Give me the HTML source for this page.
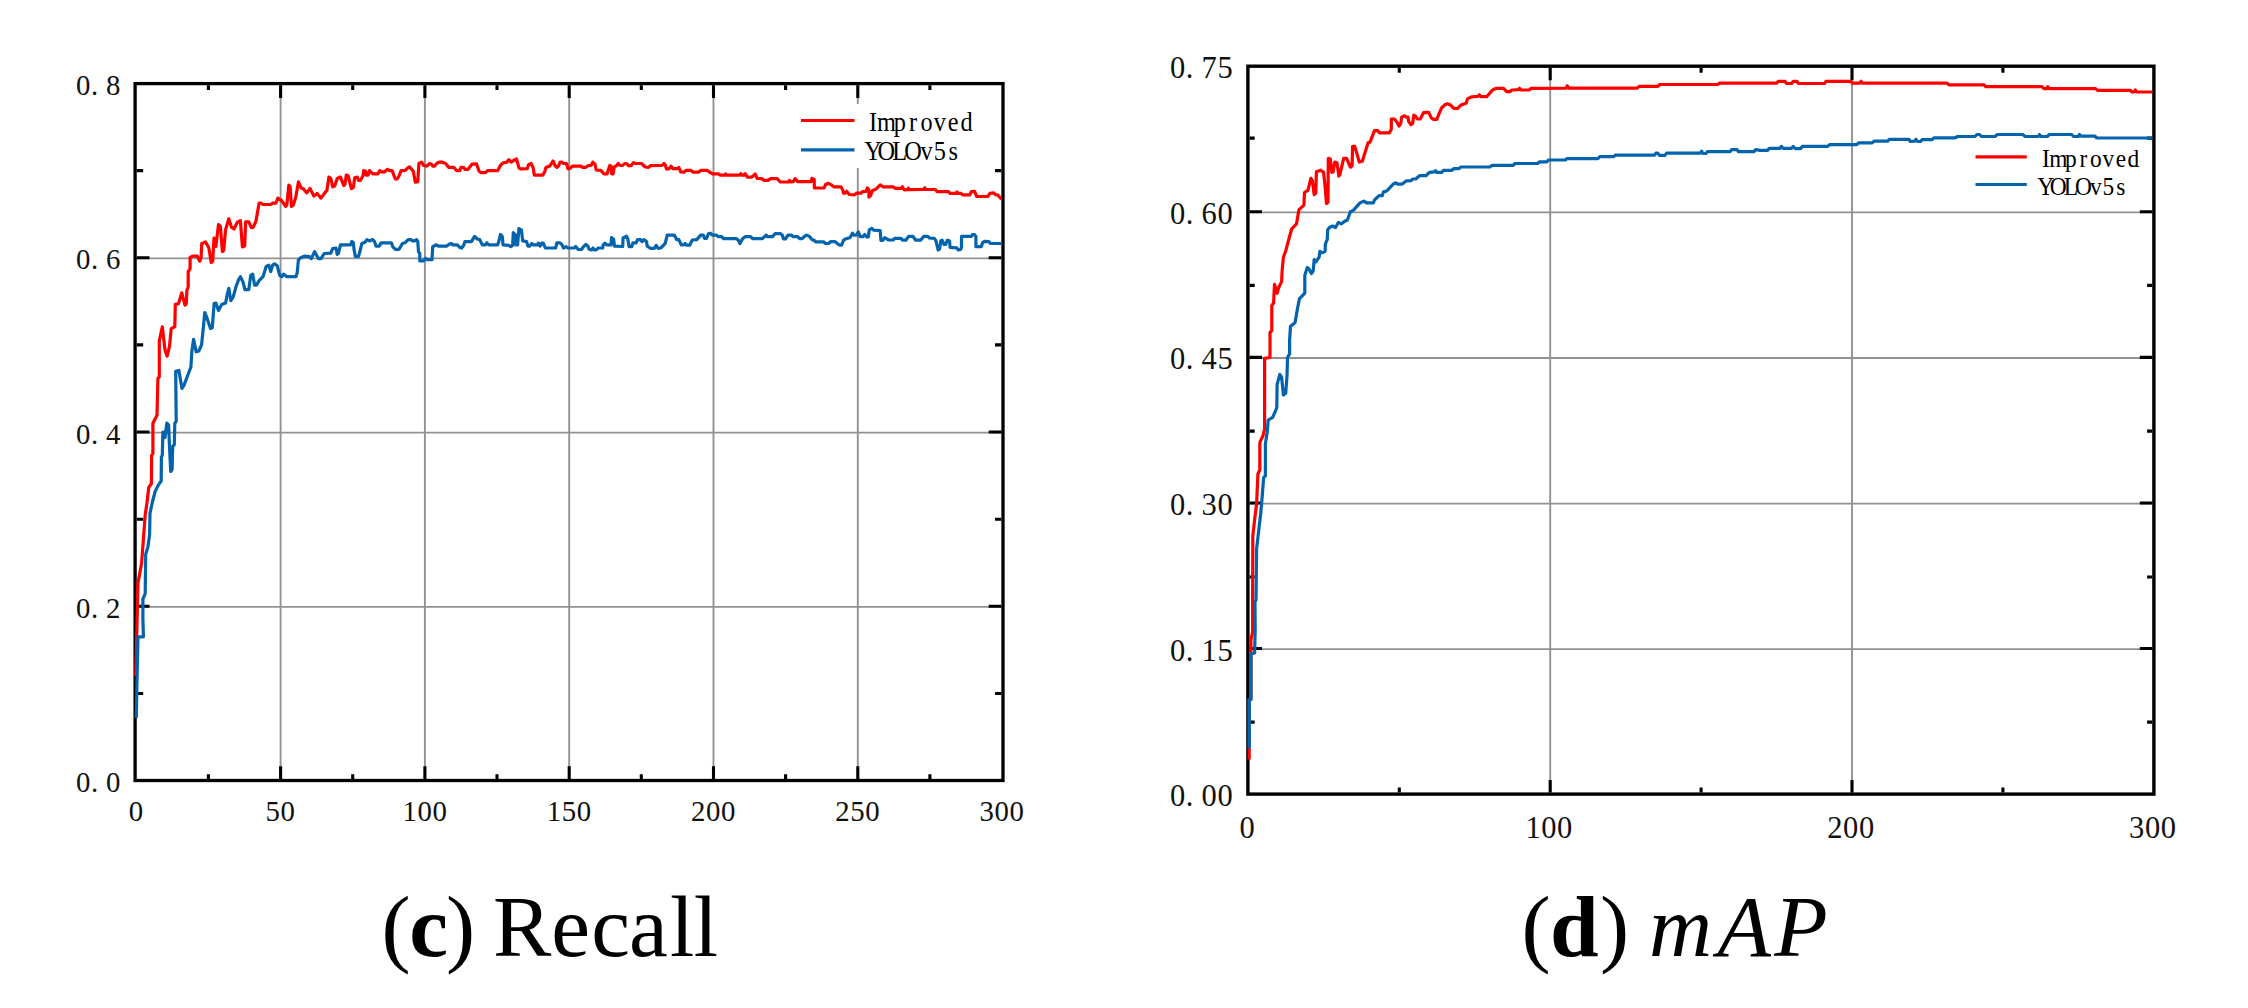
<!DOCTYPE html>
<html lang="en">
<head>
<meta charset="utf-8">
<title>Recall and mAP curves</title>
<style>
html,body{margin:0;padding:0;background:#fff;}
body{width:2248px;height:1008px;overflow:hidden;position:relative;font-family:"Liberation Serif",serif;}
svg{position:absolute;left:0;top:0;display:block;}
.gr{stroke:#929292;stroke-width:1.9;}
.cv{fill:none;stroke-width:3.2;stroke-linejoin:round;stroke-linecap:butt;}
.tick{stroke:#000;stroke-width:3.1;fill:none;}
.tk{font-family:"Liberation Serif",serif;fill:#111;}
.lg{font-family:"Liberation Serif",serif;fill:#000;text-anchor:middle;}
.cap{font-family:"Liberation Serif",serif;fill:#000;}
</style>
</head>
<body>
<svg width="2248" height="1008" viewBox="0 0 2248 1008">
<rect width="2248" height="1008" fill="#fff"/>
<g id="chart-recall">
<line class="gr" x1="280.6" y1="83.6" x2="280.6" y2="780.5"/>
<line class="gr" x1="424.9" y1="83.6" x2="424.9" y2="780.5"/>
<line class="gr" x1="569.2" y1="83.6" x2="569.2" y2="780.5"/>
<line class="gr" x1="713.5" y1="83.6" x2="713.5" y2="780.5"/>
<line class="gr" x1="857.8" y1="83.6" x2="857.8" y2="780.5"/>
<line class="gr" x1="135.1" y1="606.9" x2="1003" y2="606.9"/>
<line class="gr" x1="135.1" y1="432.6" x2="1003" y2="432.6"/>
<line class="gr" x1="135.1" y1="258.4" x2="1003" y2="258.4"/>
<rect x="790" y="104" width="200" height="64" fill="#fff"/>
<line x1="801" y1="120.5" x2="854.5" y2="120.5" stroke="#ff0000" stroke-width="3.2"/>
<text class="lg" transform="translate(866.4,130.7) scale(0.9,1)" x="7.4 22.2 37.1 51.9 66.8 81.6 96.4 111.2" font-size="27">Improved</text>
<line x1="801" y1="149.8" x2="854.5" y2="149.8" stroke="#0363ad" stroke-width="3.2"/>
<text class="lg" transform="translate(866.4,159.7) scale(0.9,1)" x="7.4 22.2 37.1 51.9 66.8 81.6 96.4" font-size="27">YOLOv5s</text>
<path class="tick" d="M280.6,778.9v-12.7 M280.6,85.2v12.7"/>
<path class="tick" d="M424.9,778.9v-12.7 M424.9,85.2v12.7"/>
<path class="tick" d="M569.2,778.9v-12.7 M569.2,85.2v12.7"/>
<path class="tick" d="M713.5,778.9v-12.7 M713.5,85.2v12.7"/>
<path class="tick" d="M857.8,778.9v-12.7 M857.8,85.2v12.7"/>
<path class="tick" d="M208.4,778.9v-4.7 M208.4,85.2v4.7"/>
<path class="tick" d="M352.7,778.9v-4.7 M352.7,85.2v4.7"/>
<path class="tick" d="M497,778.9v-4.7 M497,85.2v4.7"/>
<path class="tick" d="M641.3,778.9v-4.7 M641.3,85.2v4.7"/>
<path class="tick" d="M785.6,778.9v-4.7 M785.6,85.2v4.7"/>
<path class="tick" d="M929.9,778.9v-4.7 M929.9,85.2v4.7"/>
<path class="tick" d="M136.8,606.3h12.7 M1001.4,606.3h-12.7"/>
<path class="tick" d="M136.8,432h12.7 M1001.4,432h-12.7"/>
<path class="tick" d="M136.8,257.8h12.7 M1001.4,257.8h-12.7"/>
<path class="tick" d="M136.8,693.5h6.4 M1001.4,693.5h-6.4"/>
<path class="tick" d="M136.8,519.2h6.4 M1001.4,519.2h-6.4"/>
<path class="tick" d="M136.8,344.9h6.4 M1001.4,344.9h-6.4"/>
<path class="tick" d="M136.8,170.6h6.4 M1001.4,170.6h-6.4"/>
<rect x="135.1" y="83.6" width="867.9" height="696.9" fill="none" stroke="#000" stroke-width="3.3"/>
<polyline class="cv" stroke="#ff0000" points="135.8,676 136.6,640 137.1,618.6 138,582.9 141.6,563.2 143.4,539.1 145.2,515 147,502.5 148.8,487.3 151.4,483.8 151.6,455.4 152.9,453.6 152.9,423.2 157,415.2 157.9,378.6 159.3,376.8 159.3,341 162.3,326.8 165,350 167.1,356.2 169.5,346.4 171.2,328.6 174.8,326.8 175.3,304.4 178.5,303.8 181.8,292.8 185,305.1 186.3,303.8 186.9,290.2 188.2,287 188.2,271.5 190.1,269 190.1,257.4 192.7,256.1 197.2,256.1 199.8,261.2 201.1,257.4 201.7,243.8 205.6,241.9 208.8,247.7 211.2,262.5 212.7,261.2 214,238 215.9,246.4 218.5,224.5 220.4,226.4 222.4,251.6 223.7,250.3 225.6,229.6 228.8,218.7 231.4,227.1 234,229 237.2,222.5 240.4,220.6 242.4,247 244.7,245.8 245.6,221.9 248.8,221.9 251.4,227.7 253.3,227.1 255.9,221.3 259.1,203.2 261.1,203.2 263,204.5 270.7,204.5 272.7,203.2 275.9,203.2 277.8,198.1 281.7,200.6 285.6,206.4 286.8,205.1 288.8,185.2 290.1,186.4 291.4,206.4 293.3,205.1 295.9,196.8 298.4,181.9 301,187.7 303.6,189 306.8,192.9 310,188.4 313.9,196.1 317.1,193.5 321,198.1 326.2,191 326.9,190.6 328.9,177.1 330.8,178.4 332.7,186.8 334.7,186.1 337.2,178.4 340.5,177.1 343.7,185.5 345,184.2 346.3,175.1 348.2,175.8 351.4,188.7 353.4,187.4 354.7,177.7 357.2,177.1 358.5,180.3 360.5,180.3 363,175.8 363.7,170.6 365.6,171.3 366.3,175.1 368.2,175.1 369.5,170.6 372.7,173.9 377.9,173.9 379.8,170.6 381.7,171.9 384.3,171.9 387.5,169.3 389.5,170.6 392.1,170.6 395.3,179 397.2,179 399.1,175.8 401.1,170.6 404.9,170.6 407.5,168.1 409.5,166.8 413.3,171.3 415.3,182.2 417.8,181.6 418.9,163.5 421.7,162.2 423.6,165.5 426.9,166.1 429.4,163.5 431.4,164.2 432.7,166.1 434.6,166.1 437.2,162.9 439.1,162.2 442.3,162.2 445.6,163.5 448.8,167.4 453.9,167.4 456.5,170.6 459.8,170.6 461,167.4 463.6,167.4 464.9,169.3 468.1,169.3 472,164.2 476.5,163.9 479.1,171.3 481,172.6 485.5,172.6 487.5,170.6 497.8,170.6 500.4,165.5 503,162.9 506.8,162.2 508.8,159.7 511.3,162.2 513.9,160.3 516.5,159 519.1,168.1 520.4,168.9 527.2,168.7 528.5,164.8 531.1,163.5 533.1,167.4 534.3,175.1 542.7,175.1 544.7,171.9 545.9,167.4 549.8,166.1 553,161 555,165.5 556.9,167.4 558.8,165.5 560.1,162.2 562.1,162.2 563.4,163.5 566.6,163.5 567.9,168.7 569.8,168.7 572.4,166.1 580.8,166.1 582.7,167.4 585.9,167.4 587.9,165.7 591.1,165.5 592.8,162.2 595,164.2 596.2,170 600.8,170.4 604,173.9 607.2,173.9 608.5,169.3 609.8,165.5 611.1,166.1 611.7,173.9 613,173.9 614.3,166.8 616.2,166.1 618.2,163.5 620.1,165.5 622.7,165.5 624.6,163.5 626.5,163.5 628.5,165.7 631.1,165.7 633.6,162.6 635.6,163.5 641.4,163.5 645.2,167 648.5,167.4 650.4,165.7 662,165.5 663.9,163.5 665.2,164.8 666.5,169.1 669.1,168.7 671,166.1 673,168.7 677.5,168.7 678.8,167.4 680.7,171.9 683.9,172.2 685.9,170.4 691,170.4 692.9,172.2 698.8,172.2 700.7,170.4 707.1,170.4 710.4,172.6 712.6,173.9 718.4,173.9 720.3,175.1 724.8,175.1 725.7,173.9 726.8,175.1 739.7,175.1 740.7,173.6 742,175.1 743.8,175.1 745.1,173.6 747.4,177.1 751.9,177.1 755.1,173.9 757.1,178.4 761.6,178.6 764.2,180.3 768,180.3 770.6,178.6 777.1,178.6 780.3,182 788.7,182 789.6,180.3 790.6,182 793.2,181.6 795.1,178.6 797.7,181.6 811.2,181.6 811.9,178.4 814.2,179.4 814.4,188 824.1,188 825.4,184.8 828.6,183.3 831.2,184.8 833.8,186.8 840.9,186.8 842.8,190 843.5,193.2 845.4,193.2 846.7,191.3 849.3,194.5 854.4,194.9 856.4,193.2 860.9,193.2 862.8,191.5 866,191.5 867.3,188 868.9,190 868.9,197.1 870.5,195.8 872.5,190.6 875.7,189.3 880.2,184.8 882.8,186.8 893.1,186.8 895,188.3 901,188.4 902.4,186.7 904.3,190 907.5,189.7 908.3,188.1 909.2,189.7 923.9,189.5 924.7,187.8 925.5,189.5 935.4,189.5 937,191.6 948.5,191.6 950.1,193.3 956.1,193.3 957,191.9 957.7,193.3 961,193.3 962.6,194.9 969.7,194.9 971.4,191.6 974.6,191.4 976.8,196.5 987.7,196.5 989.9,193.3 993.7,192.9 995.4,194.7 997.5,194.9 1000.8,198.4 1001.9,198.4"/>
<polyline class="cv" stroke="#0363ad" points="136.3,718 137,680 138,636.8 143.4,636.8 142.9,618.6 142.9,599 145.2,593.6 145.7,554.3 147.9,547.1 149.6,534.6 150,513.2 152.3,502.5 155,491.8 158.6,484.6 161.2,481 161.4,457.1 162.3,455.4 162.9,432.1 165,437.5 166.8,423.2 168.6,425 169.5,446.4 170.7,471.4 172.1,469.6 172.7,446.4 174.3,444.6 174.8,423.2 176.2,421.4 175.7,371.4 178.9,370.5 182,388.4 183.8,385.7 190.9,367 191.8,351.8 193.6,339.3 196.2,351.8 198.9,350.9 201.6,344.6 203.4,326.8 204.8,312.5 207,317.9 210.5,328.6 212.3,327.7 214.1,303.6 215.9,303.1 218.5,310.5 221.7,304.4 225.6,303.1 226.9,296 228.8,288.3 230.8,300.6 233.3,296.7 235.9,287 238.5,279.9 240.4,276.7 243,281.9 244.9,289.6 248.8,289.6 250.7,275.4 252.7,274.1 254.6,285.1 256.5,285.1 259.1,280.6 263,276.7 266.2,266.4 268.8,265.1 270.7,271.5 272.7,265.1 274.6,263.8 277.2,265.7 279.7,275.4 281.7,276.7 283.6,274.1 286.8,276.7 295.9,276.7 297.2,272.8 298.4,259.9 301,257.4 304.9,256.1 309.4,256.7 311.3,258.6 314.6,251.6 318.4,258.6 321,258.6 324.2,253.5 330.8,253.2 332.7,248.6 336,248 337.2,254.4 338.5,253.2 340.5,244.8 350.8,244.8 351.8,241.6 353.4,242.8 354,249.3 355.3,256.4 358.5,256.4 360.5,249.3 361.8,243.5 365,242.2 366.9,239.6 369.5,240.9 372.7,239.6 374.6,241.6 375.9,246.1 379.2,246.1 381.1,242.8 391.4,242.8 392.7,246.7 395.3,249.3 399.1,249.3 402.4,243.5 404.9,242.8 408.2,239.6 410.8,239.6 412.7,240.9 414.6,240.9 416.6,239.6 417.8,241.6 418.5,251.9 419.8,253.2 419.8,260.9 423.6,260.9 425.6,258.3 426.9,259.6 432,259.6 432.7,246.7 436.5,244.8 438.5,246.1 446.9,246.1 449.4,244.1 451.4,243.5 452.7,244.8 457.2,244.8 459.8,247.4 461.7,248 463.6,245.4 464.9,241.6 471.4,241.6 474.6,236.4 477.2,239 479.7,239.6 482.3,244.8 485.5,244.8 486.8,242.8 488.8,244.8 497.8,244.8 499.1,240.3 500.4,234.5 502.3,236.4 503,244.8 508.8,245.4 510.7,246.7 512.6,245.4 513.3,232.5 515.2,234.5 515.8,244.8 517.6,244.8 518.9,228.7 521.4,230 522.7,240.9 526.6,241.6 527.9,246.1 529.8,246.1 531.8,243.5 533.1,244.8 537.6,244.8 538.5,243.1 540.1,246.1 542.1,242.8 543.4,243.5 545.3,248 555.6,248 556.9,242.8 560.1,242.8 562.1,244.8 563.4,248 565.9,246.7 567.9,248 574.3,248 575.6,246.5 578.2,249.5 581.4,249.5 584,246.1 585.9,244.4 587.9,246.1 589.1,249.3 591.7,249.9 593,248 594.3,249.9 596.2,249.9 598.2,248 602.7,248 603.3,244.8 604.9,243.1 606.6,244.8 611.1,244.8 611.5,237.7 613.6,239 614.5,246.1 622.7,246.5 623.1,237.7 624.6,237.4 626.5,236.1 627.8,239 629.1,246.7 631.7,246.7 633,242.8 636.2,242.8 637.5,239.6 640.7,239.6 642,241.6 643.9,239.6 646.5,241.6 647.2,246.1 650.4,248.3 654.3,248.3 656.2,245.4 658.1,248.3 660.7,248 665.2,243.5 667.2,235.1 674.3,235.1 676.8,239.6 678.8,239.6 681.3,244.8 683.9,244.8 685.2,243.5 686.5,245.2 689.7,245.2 692.3,240 696.8,239.6 700.7,235.1 703.3,235.1 704.6,238.3 706.5,238.3 708.4,233.8 710.4,233.2 712.3,235.1 716.4,235.1 718.4,236.7 721.6,236.7 723.5,238.7 736.4,238.7 738.4,240.3 739.9,243.5 742.9,238.3 745.5,236.7 750.6,236.7 752.6,238.7 762.2,238.7 764.8,236.4 766.1,235.1 767.4,236.7 772.5,236.7 775.1,233.6 780.3,233.6 782.2,235.1 783.5,239 785.4,239 788,235.1 791.2,235.1 793.2,236.7 797.7,236.7 799.6,238.7 802.2,238.7 804.8,236.1 806.7,235.1 809.3,236.4 812.5,240 813.8,240 815.7,241.8 823.5,241.8 825.4,243.5 828.6,243.5 830.6,241.6 835.1,241.6 838.9,244.8 841.5,245.2 843.5,240.3 846,238.7 849.9,237.7 852.5,233.2 853.8,235.1 856.4,235.1 858.3,231.9 860.2,236.7 862.8,236.7 864.7,234.5 866.7,237 868.3,237 869.3,229.9 871.8,228.4 873.8,230.2 880.2,230.6 880.9,240.3 882.8,240.3 884.7,237.7 888.6,240 893.1,240 895,238.3 901,238.3 902.6,240.2 905.9,240.2 908.6,236.4 913,236.4 915.7,240.2 920.6,240.2 923.6,236.4 927.7,236.4 929.4,238 934.3,238.3 935.9,240.7 937,245.1 938.1,250 939.7,248.9 940.8,240.7 942.1,240.2 944.1,244.5 945.7,244.5 947.4,240.2 949.5,240.7 950.1,247.3 956.6,247.8 958.3,250 960.5,249.5 961.5,247.3 961.5,236.4 971.4,236.4 972.5,234.7 974.6,234.7 975.9,236.4 975.9,246.7 981.2,246.7 982.8,242.4 985,241.3 988.8,241.6 990.5,243.5 1001.9,243.5"/>
<text class="tk" x="128.8" y="821.3" font-size="28.8">0</text>
<text class="tk" x="265.6 280.6" y="821.3" font-size="28.8">50</text>
<text class="tk" x="402.4 417.4 432.4" y="821.3" font-size="28.8">100</text>
<text class="tk" x="546.7 561.7 576.7" y="821.3" font-size="28.8">150</text>
<text class="tk" x="691 706 721" y="821.3" font-size="28.8">200</text>
<text class="tk" x="835.2 850.2 865.2" y="821.3" font-size="28.8">250</text>
<text class="tk" x="979.5 994.5 1009.5" y="821.3" font-size="28.8">300</text>
<text class="tk" x="76 91 106" y="792.1" font-size="28.8">0.0</text>
<text class="tk" x="76 91 106" y="617.8" font-size="28.8">0.2</text>
<text class="tk" x="76 91 106" y="443.5" font-size="28.8">0.4</text>
<text class="tk" x="76 91 106" y="269.3" font-size="28.8">0.6</text>
<text class="tk" x="76 91 106" y="95" font-size="28.8">0.8</text>
</g>
<g id="chart-map">
<line class="gr" x1="1550.2" y1="66.2" x2="1550.2" y2="794.1"/>
<line class="gr" x1="1852" y1="66.2" x2="1852" y2="794.1"/>
<line class="gr" x1="1247.9" y1="649.1" x2="2153.9" y2="649.1"/>
<line class="gr" x1="1247.9" y1="503.6" x2="2153.9" y2="503.6"/>
<line class="gr" x1="1247.9" y1="358" x2="2153.9" y2="358"/>
<line class="gr" x1="1247.9" y1="212.4" x2="2153.9" y2="212.4"/>
<rect x="1965" y="140" width="180" height="62" fill="#fff"/>
<line x1="1975.5" y1="156.9" x2="2026.8" y2="156.9" stroke="#ff0000" stroke-width="3.2"/>
<text class="lg" transform="translate(2039.6,167.3) scale(0.9,1)" x="6.9 20.8 34.7 48.6 62.5 76.4 90.3 104.2" font-size="26">Improved</text>
<line x1="1975.5" y1="184.5" x2="2026.8" y2="184.5" stroke="#0363ad" stroke-width="3.2"/>
<text class="lg" transform="translate(2039.6,194.7) scale(0.9,1)" x="6.9 20.8 34.7 48.6 62.5 76.4 90.3" font-size="26">YOLOv5s</text>
<path class="tick" d="M1550.2,792.4v-12.4 M1550.2,67.9v12.4"/>
<path class="tick" d="M1852,792.4v-12.4 M1852,67.9v12.4"/>
<path class="tick" d="M1399.3,792.4v-4.8 M1399.3,67.9v4.8"/>
<path class="tick" d="M1701.1,792.4v-4.8 M1701.1,67.9v4.8"/>
<path class="tick" d="M2002.9,792.4v-4.8 M2002.9,67.9v4.8"/>
<path class="tick" d="M1249.6,648.5h12.4 M2152.2,648.5h-12.4"/>
<path class="tick" d="M1249.6,503h12.4 M2152.2,503h-12.4"/>
<path class="tick" d="M1249.6,357.4h12.4 M2152.2,357.4h-12.4"/>
<path class="tick" d="M1249.6,211.8h12.4 M2152.2,211.8h-12.4"/>
<path class="tick" d="M1249.6,722.1h5.1 M2152.2,722.1h-5.1"/>
<path class="tick" d="M1249.6,577h5.1 M2152.2,577h-5.1"/>
<path class="tick" d="M1249.6,431.1h5.1 M2152.2,431.1h-5.1"/>
<path class="tick" d="M1249.6,285.4h5.1 M2152.2,285.4h-5.1"/>
<path class="tick" d="M1249.6,138.1h5.1 M2152.2,138.1h-5.1"/>
<rect x="1247.9" y="66.2" width="906" height="727.9" fill="none" stroke="#000" stroke-width="3.4"/>
<polyline class="cv" stroke="#ff0000" points="1249.2,759.4 1249,699.5 1250.9,699 1250.9,640 1252.6,632 1252.6,602 1252.8,536 1254.7,519 1256.6,504 1257.9,474 1259.8,470 1259.8,443.8 1260.2,441.4 1262.9,436.1 1264.6,428.9 1264.6,358.4 1270,357.5 1270,332.5 1271.8,330.7 1271.8,305.7 1273.6,303 1274.5,284.3 1277.1,293.2 1278.9,287 1281.6,281.6 1282.2,269.9 1283.4,257.2 1285.6,251.3 1288.6,240.1 1291.6,229 1296.5,223.8 1299,209.6 1303.9,205.1 1304.5,192.5 1307.9,190.3 1310.9,178.4 1312.4,180.6 1314.2,194.7 1315.8,193.2 1316.4,171.7 1320.6,170.2 1323.6,172.4 1325.1,186.5 1326.5,203.7 1328,202.2 1328.3,158.3 1330.3,159 1331.8,172.4 1333.2,171.7 1334.7,162 1337,162.7 1338.8,176.1 1339.9,174.6 1343.7,158.3 1346.6,158.3 1350.4,167.2 1352.1,165.7 1352.6,146.4 1354.8,146.4 1359.3,162 1362.3,161.2 1368.2,142.6 1370,142.2 1374.5,130.6 1377.7,130.6 1379.7,132.9 1389.3,132.9 1391.3,129.3 1391.3,119 1394.5,119 1397.1,122.2 1399,126.1 1400.9,122.9 1401.6,117.1 1404.6,115.8 1406.1,117.1 1408,117.1 1408.7,121.6 1411,124.8 1412.6,123.5 1413.8,115.1 1415.1,115.8 1417.5,119 1420.3,119 1423.5,112.6 1428.7,112.3 1431.2,117.7 1433.2,119.4 1436.8,119.4 1439,113.8 1441.6,108 1444.8,104.8 1447.4,103.8 1450.6,105.1 1453.8,108.4 1457.7,108.4 1460.9,105.1 1466.1,103.3 1467.7,98.6 1471.9,96.8 1477.7,96.4 1479.3,94.8 1480.9,96.7 1486.7,96.7 1492.5,90 1496.4,88.3 1503.5,88.3 1506.7,91.7 1509.9,91.7 1511.8,90 1518.3,89.7 1519.6,88.3 1520.9,90 1529.2,90 1531.2,88.3 1566,88.1 1567.3,85.8 1568.6,88.1 1637.2,88.1 1639.1,86.4 1657.8,86.4 1659.8,84.5 1717.8,84.5 1719.7,83 1776.8,83.2 1778.1,81.3 1785.1,81.3 1786.4,83.5 1791.6,83.5 1793.3,81.3 1796.8,81.3 1798.4,83.5 1824.5,83.5 1826,81.3 1850.3,81.3 1852.8,83.2 1859.9,83.2 1861,81.3 1862.1,83.2 1947,83.2 1948.9,84.9 1984,84.8 1985.7,86.7 2042,86.7 2044,88.6 2046.8,88.6 2047.8,86.7 2049.1,88.6 2095.6,88.6 2097.5,90.3 2130.4,90.3 2131.9,92 2134.2,92 2135.3,89.9 2136.6,92 2152.3,92"/>
<polyline class="cv" stroke="#0363ad" points="1249.3,748.4 1249.3,699.5 1251,699.5 1251,654 1254.6,653 1255.2,630 1255,602 1256,600 1256.6,549 1258.5,532.4 1260.7,513.5 1262.2,496.5 1263.6,477.7 1265.4,475.8 1265.4,443.8 1267.3,431.6 1268.2,420 1272.7,417.3 1275.4,411.1 1276.8,407.5 1277.1,384.3 1279.8,374.5 1281.6,377.1 1283.4,395 1285.7,393.2 1287,376.2 1287.5,357.5 1289.6,353.9 1289.6,340.5 1290.5,326.2 1295,322.7 1297.7,307.5 1299.5,298.6 1304.8,293.2 1304.8,275.4 1307.2,267.6 1309,269.1 1311.4,273.6 1313.2,270.6 1314.2,259.5 1316.1,261.7 1319.1,257.2 1319.9,251.3 1322.1,252.8 1325.1,251.3 1325.4,243.8 1327.3,239.4 1327.7,229.7 1329.5,227.5 1332.5,226 1335.5,227.5 1338.5,222.3 1341.4,223.8 1344.4,221.5 1347.4,220 1350.4,211.8 1353.3,210.4 1360,202.9 1363.8,201.1 1366.7,202.9 1373.4,202.9 1374.5,200 1379,195.7 1382.2,195.7 1383.5,191.9 1386.8,191 1393.2,184.1 1395.8,182.8 1397.7,184.1 1402.2,184.1 1406.1,180.9 1411.3,180.6 1412.6,179 1415.8,179 1417.7,177.3 1419.6,175.7 1426.1,175.7 1429.3,172.3 1434.5,171.9 1435.5,170.6 1436.8,172.3 1441.6,172.3 1443.5,170.3 1451.9,170.3 1453.8,168.6 1459,168.6 1460.9,167 1489.9,167 1491.9,165.4 1513.1,165.4 1515.1,163.5 1537.6,163.5 1539.6,161.8 1546.7,161.8 1548.6,160 1565.4,160 1566.9,158.6 1597.9,158.6 1599.8,156.7 1613.4,156.7 1615.3,155.2 1654.6,155.2 1655.9,153.1 1657.8,153.1 1659.4,155.4 1664.9,155.4 1666.6,153.1 1700.4,153.1 1701.7,151.3 1703,153.5 1705.8,153.5 1707.5,151.6 1730.1,151.6 1731.6,149.6 1737.1,149.6 1738.4,151.6 1753.9,151.6 1755.6,149.6 1760,150.3 1767.7,150.3 1769.3,148.3 1780,148.3 1781.3,146.4 1783,148.3 1791.6,148.3 1793.3,146.4 1795.1,148.6 1800.6,148.6 1802.3,146.4 1827.7,146.4 1829.6,144.7 1856.7,144.7 1858.6,142.8 1872.2,142.8 1874.1,141.2 1887.7,141.2 1889.3,139.3 1908.9,139.3 1910.2,141.5 1914.7,141.2 1916,139.3 1917.3,141.5 1920.5,141.5 1922.2,139.6 1932.1,139.6 1934.1,137.8 1955,137.8 1957.6,136.5 1975,136.5 1976.9,134.5 1979.5,134.5 1981.4,136.5 1995,136.5 1997.3,134.5 2022.7,134.5 2025.3,136.5 2038.2,136.5 2039.5,134.5 2040.8,136.5 2047.2,136.5 2049.4,134.5 2071.7,134.5 2073.6,136.5 2078.5,136.5 2079.4,134.5 2081.1,136.1 2094.9,136.1 2096.8,138 2152.3,138"/>
<text class="tk" x="1239.5" y="837.5" font-size="30.5">0</text>
<text class="tk" x="1525.5 1541.3 1557.1" y="837.5" font-size="30.5">100</text>
<text class="tk" x="1827.3 1843.1 1858.9" y="837.5" font-size="30.5">200</text>
<text class="tk" x="2129.1 2144.9 2160.7" y="837.5" font-size="30.5">300</text>
<text class="tk" x="1170 1185.8 1201.6 1217.4" y="806.1" font-size="30.5">0.00</text>
<text class="tk" x="1170 1185.8 1201.6 1217.4" y="660.5" font-size="30.5">0.15</text>
<text class="tk" x="1170 1185.8 1201.6 1217.4" y="515" font-size="30.5">0.30</text>
<text class="tk" x="1170 1185.8 1201.6 1217.4" y="369.4" font-size="30.5">0.45</text>
<text class="tk" x="1170 1185.8 1201.6 1217.4" y="223.8" font-size="30.5">0.60</text>
<text class="tk" x="1170 1185.8 1201.6 1217.4" y="78.2" font-size="30.5">0.75</text>
</g>
<g id="captions">
<text class="cap" y="956" font-size="87.4" x="381.4 409.2 446.1 472 493.1 551.3 591.2 629.1 669.9 693.7"><tspan>(</tspan><tspan font-weight="bold">c</tspan><tspan>) Recall</tspan></text>
<text class="cap" y="956" font-size="87.4" x="1521.4 1550 1599.9 1626 1649.1 1717.5 1774.3"><tspan>(</tspan><tspan font-weight="bold">d</tspan><tspan>) </tspan><tspan font-style="italic">mAP</tspan></text>
</g>
</svg>
</body>
</html>
